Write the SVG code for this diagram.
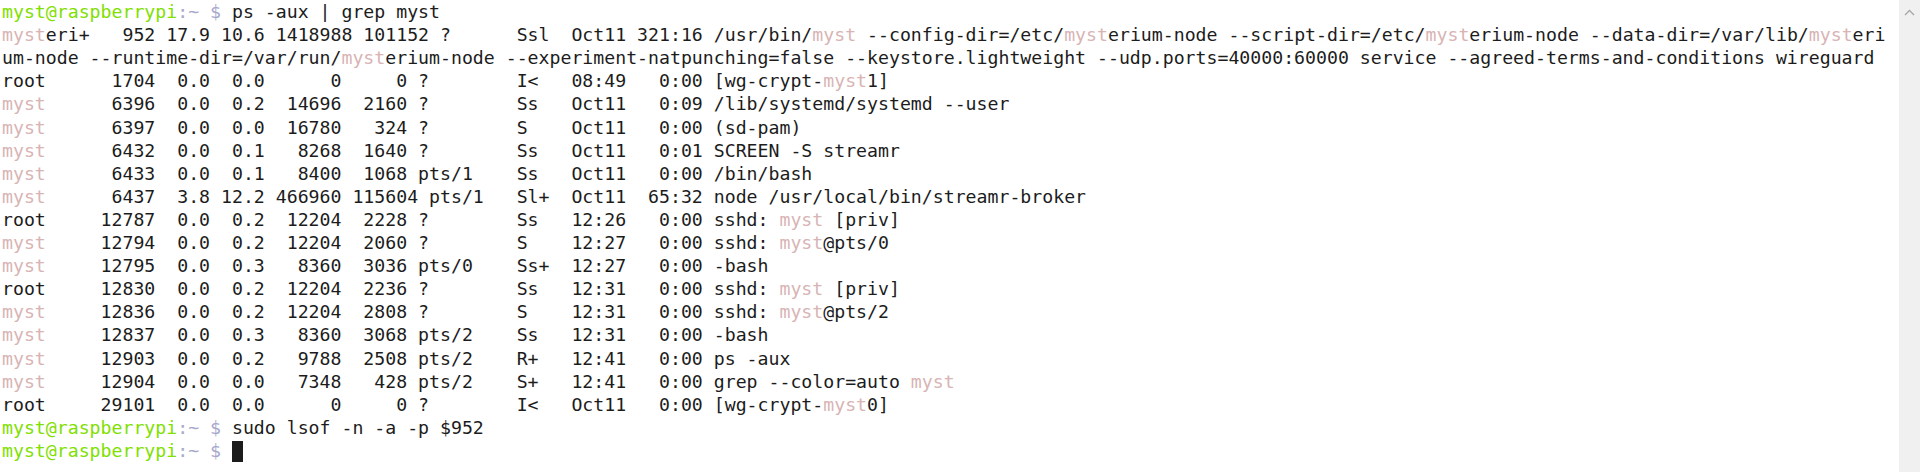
<svg xmlns="http://www.w3.org/2000/svg" width="1920" height="472" viewBox="0 0 1920 472">
<style>
text{font-family:"DejaVu Sans Mono","Liberation Mono",monospace;font-size:18.2px;fill:#1c1c1c;white-space:pre}
.g{fill:#80e000}.c{fill:#a8a8cc}.p{fill:#d8b4b4}
</style>
<rect width="1920" height="472" fill="#ffffff"/>
<rect x="1899" y="0" width="21" height="472" fill="#f0f0f0"/>
<path d="M1905 15 l4.5 -4.5 l4.5 4.5" fill="none" stroke="#a6a6a6" stroke-width="1.3"/>
<g id="terminal" xml:space="preserve">
<text x="2" y="18"><tspan class="g">myst@raspberrypi</tspan><tspan class="c">:~ $</tspan> ps -aux | grep myst</text>
<text x="2" y="41.1"><tspan class="p">myst</tspan>eri+   952 17.9 10.6 1418988 101152 ?      Ssl  Oct11 321:16 /usr/bin/<tspan class="p">myst</tspan> --config-dir=/etc/<tspan class="p">myst</tspan>erium-node --script-dir=/etc/<tspan class="p">myst</tspan>erium-node --data-dir=/var/lib/<tspan class="p">myst</tspan>eri</text>
<text x="2" y="64.2">um-node --runtime-dir=/var/run/<tspan class="p">myst</tspan>erium-node --experiment-natpunching=false --keystore.lightweight --udp.ports=40000:60000 service --agreed-terms-and-conditions wireguard</text>
<text x="2" y="87.3">root      1704  0.0  0.0      0     0 ?        I&lt;   08:49   0:00 [wg-crypt-<tspan class="p">myst</tspan>1]</text>
<text x="2" y="110.4"><tspan class="p">myst</tspan>      6396  0.0  0.2  14696  2160 ?        Ss   Oct11   0:09 /lib/systemd/systemd --user</text>
<text x="2" y="133.5"><tspan class="p">myst</tspan>      6397  0.0  0.0  16780   324 ?        S    Oct11   0:00 (sd-pam)</text>
<text x="2" y="156.6"><tspan class="p">myst</tspan>      6432  0.0  0.1   8268  1640 ?        Ss   Oct11   0:01 SCREEN -S streamr</text>
<text x="2" y="179.7"><tspan class="p">myst</tspan>      6433  0.0  0.1   8400  1068 pts/1    Ss   Oct11   0:00 /bin/bash</text>
<text x="2" y="202.8"><tspan class="p">myst</tspan>      6437  3.8 12.2 466960 115604 pts/1   Sl+  Oct11  65:32 node /usr/local/bin/streamr-broker</text>
<text x="2" y="225.9">root     12787  0.0  0.2  12204  2228 ?        Ss   12:26   0:00 sshd: <tspan class="p">myst</tspan> [priv]</text>
<text x="2" y="249"><tspan class="p">myst</tspan>     12794  0.0  0.2  12204  2060 ?        S    12:27   0:00 sshd: <tspan class="p">myst</tspan>@pts/0</text>
<text x="2" y="272.1"><tspan class="p">myst</tspan>     12795  0.0  0.3   8360  3036 pts/0    Ss+  12:27   0:00 -bash</text>
<text x="2" y="295.2">root     12830  0.0  0.2  12204  2236 ?        Ss   12:31   0:00 sshd: <tspan class="p">myst</tspan> [priv]</text>
<text x="2" y="318.3"><tspan class="p">myst</tspan>     12836  0.0  0.2  12204  2808 ?        S    12:31   0:00 sshd: <tspan class="p">myst</tspan>@pts/2</text>
<text x="2" y="341.4"><tspan class="p">myst</tspan>     12837  0.0  0.3   8360  3068 pts/2    Ss   12:31   0:00 -bash</text>
<text x="2" y="364.5"><tspan class="p">myst</tspan>     12903  0.0  0.2   9788  2508 pts/2    R+   12:41   0:00 ps -aux</text>
<text x="2" y="387.6"><tspan class="p">myst</tspan>     12904  0.0  0.0   7348   428 pts/2    S+   12:41   0:00 grep --color=auto <tspan class="p">myst</tspan></text>
<text x="2" y="410.7">root     29101  0.0  0.0      0     0 ?        I&lt;   Oct11   0:00 [wg-crypt-<tspan class="p">myst</tspan>0]</text>
<text x="2" y="433.8"><tspan class="g">myst@raspberrypi</tspan><tspan class="c">:~ $</tspan> sudo lsof -n -a -p $952</text>
<text x="2" y="456.9"><tspan class="g">myst@raspberrypi</tspan><tspan class="c">:~ $</tspan> </text>
</g>
<rect id="cursor" x="232" y="441" width="11" height="21" fill="#1c1c1c"/>
</svg>
